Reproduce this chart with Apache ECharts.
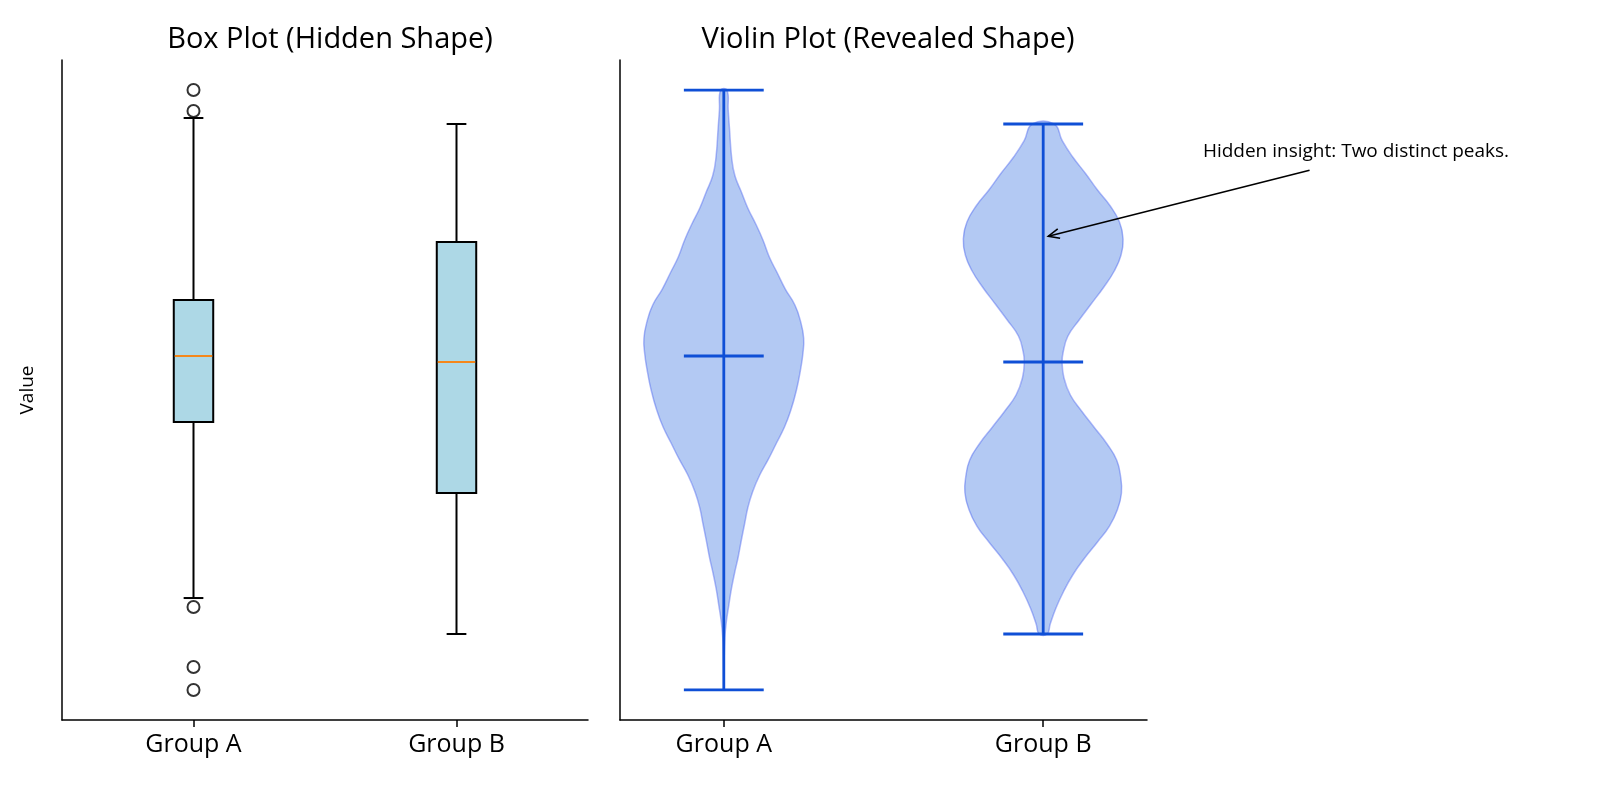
<!DOCTYPE html>
<html>
<head>
<meta charset="utf-8">
<script src="https://cdn.jsdelivr.net/npm/echarts@6/dist/echarts.min.js"></script>
<style>
html,body{margin:0;padding:0;background:#fff;}
#chart{width:1600px;height:800px;}
</style>
</head>
<body>
<div id="chart"></div>
<script>
// ---------- data ----------
const categories = ['Group A', 'Group B'];
const positions = [1, 2];

// box plot statistics
const boxLow = [18.48, 13.03];
const boxQ1 = [45.15, 34.39];
const boxMedian = [55.15, 54.24];
const boxQ3 = [63.64, 72.42];
const boxHigh = [91.21, 90.30];
const outliersA = [95.45, 92.27, 17.12, 8.03, 4.55];
const outliersB = [];

// violin extremes / medians
const violinMin = [4.55, 13.03];
const violinMax = [95.45, 90.30];
const violinMedian = [55.15, 54.24];

// violin densities (normalised, max = 1)
const violinAValues = [95.45, 92.42, 89.85, 85.0, 82.42, 80.0, 77.58, 75.15, 72.73, 70.15, 67.73, 65.30, 62.88, 60.45, 57.88, 55.45, 53.03, 50.0, 46.97, 44.39, 41.97, 39.55, 37.12, 34.55, 32.12, 29.70, 27.27, 24.70, 22.27, 19.85, 17.42, 15.0, 12.42, 8.48, 4.55];
const violinADensity = [0.04, 0.055, 0.07, 0.10, 0.14, 0.22, 0.30, 0.40, 0.49, 0.57, 0.67, 0.77, 0.89, 0.96, 1.00, 0.99, 0.96, 0.91, 0.84, 0.76, 0.66, 0.56, 0.45, 0.36, 0.30, 0.26, 0.22, 0.18, 0.135, 0.095, 0.063, 0.033, 0.013, 0.004, 0.0];
const violinBValues = [90.30, 87.73, 85.30, 82.80, 80.30, 77.88, 75.45, 72.92, 70.45, 68.03, 65.61, 63.03, 60.61, 58.18, 55.76, 54.24, 51.82, 49.24, 46.82, 44.32, 41.82, 39.39, 36.82, 34.39, 31.89, 29.39, 26.97, 24.39, 21.97, 19.47, 16.97, 14.55, 13.03];
const violinBDensity = [0.136, 0.24, 0.37, 0.53, 0.68, 0.84, 0.955, 1.0, 0.975, 0.89, 0.76, 0.60, 0.45, 0.31, 0.25, 0.237, 0.26, 0.34, 0.48, 0.64, 0.80, 0.92, 0.97, 0.98, 0.93, 0.83, 0.68, 0.51, 0.37, 0.255, 0.16, 0.088, 0.05];

// annotation
const annotationText = 'Hidden insight: Two distinct peaks.';
const annotationTip = [2.016, 73.3];
const annotationStart = [2.834, 83.3];
const annotationTextPos = [2.5, 86.06];

// ---------- chart ----------
const FONT = 'Open Sans';
const chart = echarts.init(document.getElementById('chart'));

const violinValues = [violinAValues, violinBValues];
const violinDensity = [violinADensity, violinBDensity];

function xAxisCfg(gridIndex, min, max) {
  return {
    type: 'value', gridIndex, min, max,
    axisLine: {show: true, onZero: false, lineStyle: {color: '#000', width: 1.5}},
    splitLine: {show: false},
    axisTick: {show: true, length: 7, lineStyle: {color: '#000', width: 1.5}, customValues: positions},
    axisLabel: {
      show: true, customValues: positions, margin: 12,
      color: '#000', fontSize: 25, fontFamily: FONT,
      formatter: v => categories[Math.round(v) - 1] || ''
    }
  };
}
function yAxisCfg(gridIndex, name) {
  return {
    type: 'value', gridIndex, min: 0, max: 100,
    name: name, nameLocation: 'middle', nameGap: 25, nameRotate: 90,
    nameTextStyle: {color: '#000', fontSize: 19, fontFamily: FONT},
    axisLine: {show: true, lineStyle: {color: '#000', width: 1.5}},
    axisTick: {show: false}, axisLabel: {show: false}, splitLine: {show: false}
  };
}

const boxData = positions.map((p, i) => [p, boxLow[i], boxQ1[i], boxMedian[i], boxQ3[i], boxHigh[i]]);
const outlierData = outliersA.map(v => [positions[0], v]).concat(outliersB.map(v => [positions[1], v]));
const violinData = positions.map((p, i) => [p, violinMin[i], violinMax[i], violinMedian[i]]);

const option = {
  animation: false,
  backgroundColor: '#fff',
  title: [
    {text: 'Box Plot (Hidden Shape)', left: 325, top: 20, textAlign: 'center',
     textStyle: {color: '#000', fontSize: 29, fontWeight: 'normal', fontFamily: FONT}},
    {text: 'Violin Plot (Revealed Shape)', left: 883, top: 20, textAlign: 'center',
     textStyle: {color: '#000', fontSize: 29, fontWeight: 'normal', fontFamily: FONT}}
  ],
  grid: [
    {left: 62, right: 1012, top: 60, bottom: 80},
    {left: 620, right: 453, top: 60, bottom: 80}
  ],
  xAxis: [xAxisCfg(0, 0.5, 2.5), xAxisCfg(1, 0.675, 2.325)],
  yAxis: [yAxisCfg(0, 'Value'), yAxisCfg(1, '')],
  series: [
    {
      type: 'custom', xAxisIndex: 0, yAxisIndex: 0,
      data: boxData,
      encode: {x: 0, y: [1, 2, 3, 4, 5]},
      renderItem: function (params, api) {
        const x = api.value(0);
        const unit = api.size([1, 0])[0];
        const bw = unit * 0.15, cw = bw / 2;
        const cx = api.coord([x, 0])[0];
        const yLow = api.coord([x, api.value(1)])[1];
        const yQ1 = api.coord([x, api.value(2)])[1];
        const yMed = api.coord([x, api.value(3)])[1];
        const yQ3 = api.coord([x, api.value(4)])[1];
        const yHigh = api.coord([x, api.value(5)])[1];
        const ls = {stroke: '#000', lineWidth: 2};
        return {
          type: 'group',
          children: [
            {type: 'line', shape: {x1: cx, y1: yLow, x2: cx, y2: yQ1}, style: ls},
            {type: 'line', shape: {x1: cx, y1: yQ3, x2: cx, y2: yHigh}, style: ls},
            {type: 'line', shape: {x1: cx - cw / 2, y1: yLow, x2: cx + cw / 2, y2: yLow}, style: ls},
            {type: 'line', shape: {x1: cx - cw / 2, y1: yHigh, x2: cx + cw / 2, y2: yHigh}, style: ls},
            {type: 'rect', shape: {x: cx - bw / 2, y: yQ3, width: bw, height: yQ1 - yQ3},
             style: {fill: '#add8e6', stroke: '#000', lineWidth: 2}},
            {type: 'line', shape: {x1: cx - bw / 2 + 1, y1: yMed, x2: cx + bw / 2 - 1, y2: yMed},
             style: {stroke: '#f5871a', lineWidth: 1.8}}
          ]
        };
      }
    },
    {
      type: 'scatter', xAxisIndex: 0, yAxisIndex: 0,
      data: outlierData, symbol: 'circle', symbolSize: 12,
      itemStyle: {color: 'rgba(0,0,0,0)', borderColor: '#000', borderWidth: 2}
    },
    {
      type: 'custom', xAxisIndex: 1, yAxisIndex: 1,
      data: violinData,
      encode: {x: 0, y: [1, 2, 3]},
      renderItem: function (params, api) {
        const i = params.dataIndex;
        const x = api.value(0);
        const vals = violinValues[i], dens = violinDensity[i];
        const right = [], left = [];
        for (let j = 0; j < vals.length; j++) {
          right.push(api.coord([x + dens[j] * 0.25, vals[j]]));
          left.push(api.coord([x - dens[j] * 0.25, vals[j]]));
        }
        const pts = right.concat(left.reverse());
        const cx = api.coord([x, 0])[0];
        const half = api.size([0.125, 0])[0];
        const yMin = api.coord([x, api.value(1)])[1];
        const yMax = api.coord([x, api.value(2)])[1];
        const yMed = api.coord([x, api.value(3)])[1];
        const ls = {stroke: '#0f4fd6', lineWidth: 2.8};
        return {
          type: 'group',
          children: [
            {type: 'polygon', shape: {points: pts, smooth: 0.45},
             style: {fill: 'rgba(66,120,225,0.4)', stroke: 'rgba(80,105,240,0.45)', lineWidth: 1.5}},
            {type: 'line', shape: {x1: cx, y1: yMin, x2: cx, y2: yMax}, style: ls},
            {type: 'line', shape: {x1: cx - half, y1: yMin, x2: cx + half, y2: yMin}, style: ls},
            {type: 'line', shape: {x1: cx - half, y1: yMax, x2: cx + half, y2: yMax}, style: ls},
            {type: 'line', shape: {x1: cx - half, y1: yMed, x2: cx + half, y2: yMed}, style: ls}
          ]
        };
      }
    },
    {
      type: 'custom', xAxisIndex: 1, yAxisIndex: 1, clip: false,
      data: [[annotationTip[0], annotationTip[1], annotationStart[0], annotationStart[1], annotationTextPos[0], annotationTextPos[1]]],
      encode: {x: 0, y: 1},
      renderItem: function (params, api) {
        const tip = api.coord([api.value(0), api.value(1)]);
        const st = api.coord([api.value(2), api.value(3)]);
        const tp = api.coord([api.value(4), api.value(5)]);
        const ang = Math.atan2(st[1] - tip[1], st[0] - tip[0]);
        const hl = 12, ha = 0.42;
        const h1 = [tip[0] + hl * Math.cos(ang + ha), tip[1] + hl * Math.sin(ang + ha)];
        const h2 = [tip[0] + hl * Math.cos(ang - ha), tip[1] + hl * Math.sin(ang - ha)];
        const ls = {stroke: '#000', lineWidth: 1.6};
        return {
          type: 'group',
          children: [
            {type: 'line', shape: {x1: st[0], y1: st[1], x2: tip[0], y2: tip[1]}, style: ls},
            {type: 'polyline', shape: {points: [h1, tip, h2]}, style: {stroke: '#000', lineWidth: 1.6, fill: null}},
            {type: 'text', style: {text: annotationText, x: tp[0], y: tp[1], fill: '#000',
              fontSize: 19, fontFamily: FONT, align: 'left', verticalAlign: 'middle'}}
          ]
        };
      }
    }
  ]
};
chart.setOption(option);
</script>
</body>
</html>
